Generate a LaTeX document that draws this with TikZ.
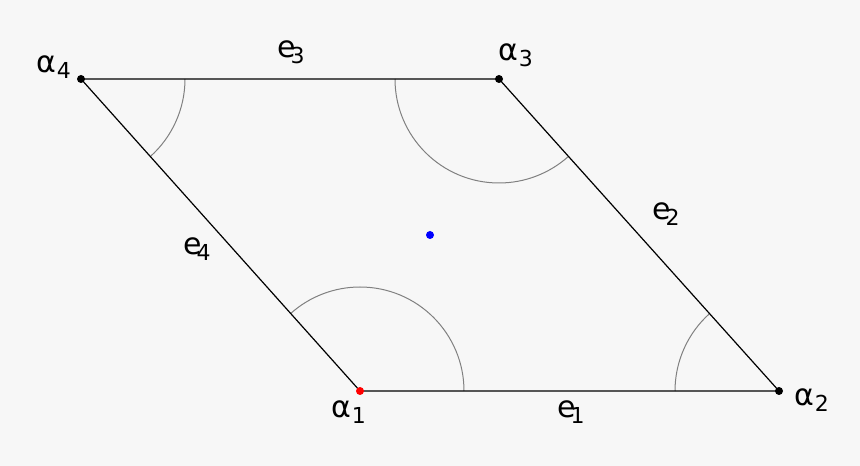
\documentclass[tikz,border=0pt]{standalone}
\usepackage{fontspec}
\setmainfont{DejaVu Sans}
\usepackage{tikz}
\usetikzlibrary{angles}

\definecolor{bgcol}{HTML}{F7F7F7}
\newcommand{\vlbl}[2]{#1\kern1pt{\fontsize{22}{22}\selectfont\raisebox{-6pt}{#2}}}
\newcommand{\elbl}[2]{#1\kern-5pt{\fontsize{22}{22}\selectfont\raisebox{-6pt}{#2}}}

\begin{document}
\begin{tikzpicture}[x=1pt, y=1pt,
    edge/.style={black, line width=1.2pt},
    anglearc/.style={draw=gray, line width=1pt, angle radius=104pt},
    lbl/.style={anchor=base west, inner sep=0pt, font=\fontsize{30}{36}\selectfont}]
                % Background
                \fill[bgcol] (0,0) rectangle (860,466);

                % Corners
                \coordinate (a1) at (360,75);
                \coordinate (a2) at (779,75);
                \coordinate (a3) at (499,387);
                \coordinate (a4) at (81,387);
                \coordinate (ctr) at (430,231);

                % Angle arcs
                \pic[anglearc] {angle = a2--a1--a4};
                \pic[anglearc] {angle = a3--a2--a1};
                \pic[anglearc] {angle = a4--a3--a2};
                \pic[anglearc] {angle = a1--a4--a3};

                % Edges
                \draw[edge] (a1) -- (a2) -- (a3) -- (a4) -- cycle;

                % Corner dots
                \fill[red] (a1) circle (4);
                \fill (a2) circle (4);
                \fill (a3) circle (4);
                \fill (a4) circle (4);
                \fill[blue] (ctr) circle (4);

                % Corner labels
                \node[lbl] (l1) at (331,48) {\vlbl{α}{1}};
                \node[lbl] (l2) at (794,60) {\vlbl{α}{2}};
                \node[lbl] (l3) at (498,405) {\vlbl{α}{3}};
                \node[lbl] (l4) at (36,393) {\vlbl{α}{4}};

                % Edge labels
                \node[lbl] (e1) at (557,48) {\elbl{e}{1}};
                \node[lbl] (e2) at (652,246) {\elbl{e}{2}};
                \node[lbl] (e3) at (277,408) {\elbl{e}{3}};
                \node[lbl] (e4) at (183,211) {\elbl{e}{4}};
\end{tikzpicture}
\end{document}
